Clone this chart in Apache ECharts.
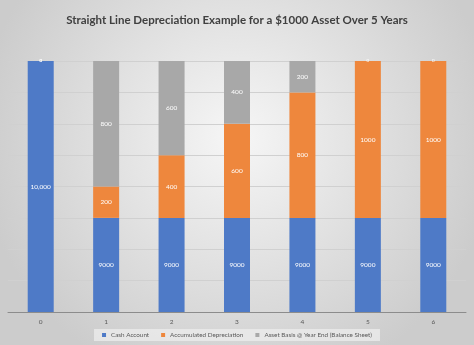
<!DOCTYPE html>
<html><head><meta charset="utf-8">
<script src="https://cdn.jsdelivr.net/npm/echarts@6/dist/echarts.min.js"></script>
<style>html,body{margin:0;padding:0;}#c{width:474px;height:345px;}</style>
</head><body><div id="c"></div>
<script>
const categories = ['0','1','2','3','4','5','6'];
const cashAccount = [10000, 9000, 9000, 9000, 9000, 9000, 9000];
const accumulatedDepreciation = [0, 200, 400, 600, 800, 1000, 1000];
const assetBasis = [0, 800, 600, 400, 200, 0, 0];
const seriesNames = ['Cash Account', 'Accumulated Depreciation', 'Asset Basis @ Year End (Balance Sheet)'];
const titleText = 'Straight Line Depreciation Example for a $1000 Asset Over 5 Years';

const chart = echarts.init(document.getElementById('c'));
const lbl = {
  show: true, position: 'inside', color: '#ffffff', fontSize: 6.5,
  fontFamily: 'Lato',
  formatter: p => p.value === 0 ? '{z|0}' : (p.value >= 10000 ? '10,000' : String(p.value)),
  rich: { z: { fontSize: 4.5, color: '#ffffff', fontFamily: 'Lato' } }
};
function mk(name, data, color) {
  return {
    name, type: 'bar', stack: 'total', data, barWidth: 26,
    itemStyle: { color }, label: lbl, emphasis: { disabled: true }
  };
}
chart.setOption({
  animation: false,
  backgroundColor: {
    type: 'radial', x: 0.5, y: 0.4, r: 0.75,
    colorStops: [{ offset: 0, color: '#f6f6f6' }, { offset: 1, color: '#cccccc' }]
  },
  title: {
    text: titleText, left: 'center', top: 9,
    textStyle: { fontFamily: 'Lato', fontWeight: 'bold', fontSize: 11.5, color: '#404040' }
  },
  legend: {
    bottom: 4, left: 'center', itemWidth: 4, itemHeight: 4, itemGap: 12,
    backgroundColor: 'rgba(235,235,235,0.8)', padding: [3, 8],
    textStyle: { fontFamily: 'Lato', fontSize: 6.3, color: '#595959' },
    icon: 'rect', data: seriesNames
  },
  grid: { left: 8, right: 8, top: 61, bottom: 33 },
  xAxis: {
    type: 'category', data: categories,
    axisLine: { lineStyle: { color: '#8c8c8c' } },
    axisTick: { show: false },
    axisLabel: { fontFamily: 'Lato', fontSize: 6.5, color: '#595959', margin: 6 }
  },
  yAxis: {
    type: 'value', min: 8400, max: 10000, interval: 200,
    axisLabel: { show: false }, axisLine: { show: false }, axisTick: { show: false },
    splitLine: { lineStyle: { color: '#d0d0d0' } }
  },
  series: [
    mk(seriesNames[0], cashAccount, '#4E7AC7'),
    mk(seriesNames[1], accumulatedDepreciation, '#EE873D'),
    mk(seriesNames[2], assetBasis, '#A8A8A8')
  ]
});
</script></body></html>
